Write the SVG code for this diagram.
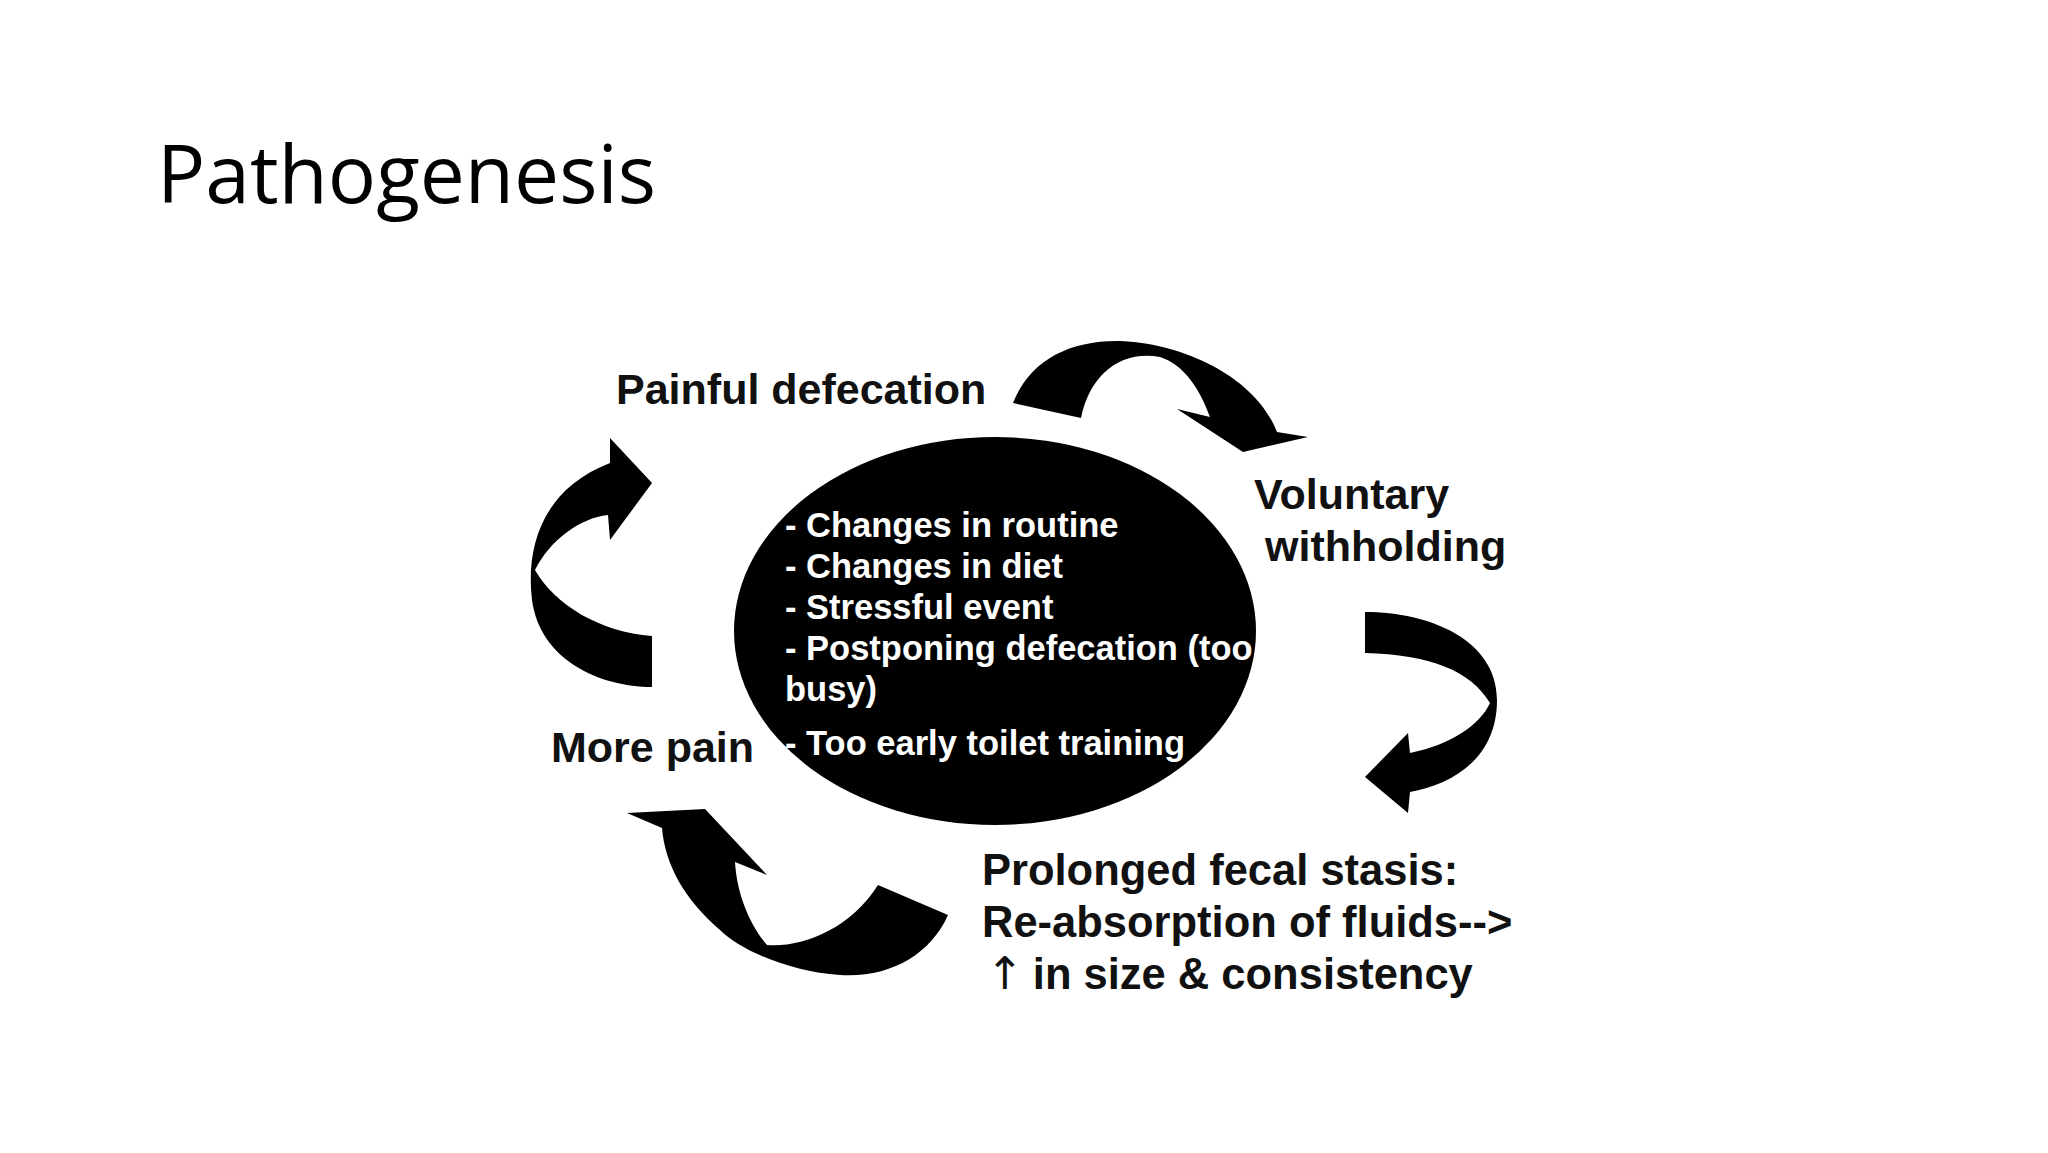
<svg xmlns="http://www.w3.org/2000/svg" width="2048" height="1153" viewBox="0 0 2048 1153">
<style>
.lbl{font-family:"Liberation Sans",Arial,Helvetica,sans-serif;font-weight:bold;fill:#111;}
.inner{font-family:"Liberation Sans",Arial,Helvetica,sans-serif;font-weight:bold;font-size:34.5px;fill:#fff;}
.arrow{fill:#000;stroke:none;}
</style>
<rect width="2048" height="1153" fill="#fff"/>
<g id="title"><text x="157" y="203" font-family="'Open Sans','Noto Sans',sans-serif" font-size="80" fill="#000" textLength="499" lengthAdjust="spacingAndGlyphs">Pathogenesis</text></g>
<g id="causes">
<ellipse cx="995" cy="631" rx="261" ry="194" fill="#000"/>
<text class="inner" x="785" y="537">- Changes in routine</text>
<text class="inner" x="785" y="578">- Changes in diet</text>
<text class="inner" x="785" y="619">- Stressful event</text>
<text class="inner" x="785" y="660">- Postponing defecation (too</text>
<text class="inner" x="785" y="701">busy)</text>
<text class="inner" x="785" y="755">- Too early toilet training</text>
</g>
<g id="painful-defecation"><text class="lbl" x="616" y="404" font-size="43">Painful defecation</text></g>
<g id="voluntary-withholding"><text class="lbl" x="1254" y="509" font-size="43">Voluntary</text><text class="lbl" x="1265" y="561" font-size="43">withholding</text></g>
<g id="fecal-stasis">
<text class="lbl" x="982" y="885" font-size="43.5">Prolonged fecal stasis:</text>
<text class="lbl" x="982" y="937" font-size="43.5">Re-absorption of fluids--&gt;</text>
<text class="lbl" x="986" y="989" font-size="43.5"><tspan font-family="'DejaVu Sans',sans-serif" font-weight="normal" font-size="45">↑</tspan><tspan dx="-3"> in size &amp; consistency</tspan></text>
</g>
<g id="more-pain"><text class="lbl" x="551" y="762" font-size="43">More pain</text></g>
<g id="connectors">
<path class="arrow" d="M1013,403 C1030,360 1070,340 1120,341 C1180,343 1255,375 1277,432 L1308,437 L1243,452 L1177,409 L1210,417 C1200,390 1185,365 1160,357 C1120,350 1090,375 1081,418 Z"/>
<path class="arrow" d="M1365,612 C1430,612 1497,640 1497,700 C1497,760 1450,785 1410,792 L1408,813 L1365,777 L1408,733 L1410,753 C1450,745 1480,725 1490,703 C1470,670 1430,655 1365,653 Z"/>
<path class="arrow" d="M948,915 C930,955 890,978 840,975 C790,972 740,950 720,930 C685,900 665,865 662,828 L627,813 L705,809 L767,875 L735,862 C737,895 750,925 767,945 C800,948 850,930 878,885 Z"/>
<path class="arrow" d="M652,687 C600,687 540,660 532,600 C526,550 540,490 610,463 L610,438 L652,483 L610,540 L608,515 C580,518 550,540 535,570 C555,605 600,632 652,636 Z"/>
</g>
</svg>
